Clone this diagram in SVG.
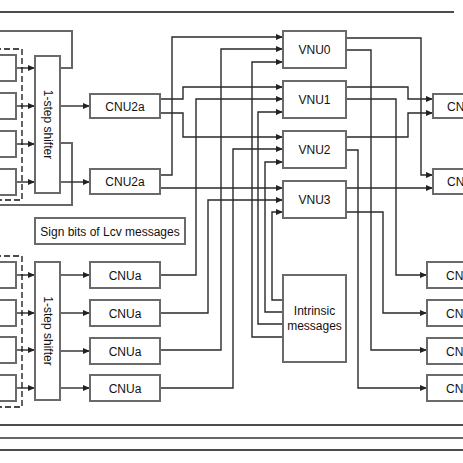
<svg xmlns="http://www.w3.org/2000/svg" width="463" height="463" viewBox="0 0 463 463">
<style>
.box{fill:#fff;stroke:#6a6a6a;stroke-width:2}
.w{fill:none;stroke:#2a2a2a;stroke-width:1.4}
.g{fill:none;stroke:#666;stroke-width:2}
.a{fill:none;stroke:#2a2a2a;stroke-width:1.4;marker-end:url(#ah)}
.t{font-family:"Liberation Sans",Arial,sans-serif;font-size:12px;fill:#111}
.c{text-anchor:middle}
</style>
<defs>
<marker id="ah" markerWidth="7" markerHeight="6" refX="7" refY="3" orient="auto" markerUnits="userSpaceOnUse">
<path d="M0,0 L7,3 L0,6 z" fill="#222"/>
</marker>
</defs>
<rect width="463" height="463" fill="#fff"/>
<g id="frame">
<line x1="0" y1="12" x2="454" y2="12" stroke="#111" stroke-width="1.5"/>
<line x1="0" y1="425" x2="463" y2="425" stroke="#111" stroke-width="1.5"/>
<line x1="0" y1="438" x2="463" y2="438" stroke="#666" stroke-width="2"/>
<line x1="0" y1="450" x2="463" y2="450" stroke="#111" stroke-width="1.5"/>
</g>
<g id="connectors">
<!-- left inputs to shifters -->
<line class="a" x1="16" y1="68" x2="35" y2="68"/>
<line class="a" x1="16" y1="106" x2="35" y2="106"/>
<line class="a" x1="16" y1="144" x2="35" y2="144"/>
<line class="a" x1="16" y1="182" x2="35" y2="182"/>
<line class="a" x1="16" y1="275" x2="35" y2="275"/>
<line class="a" x1="16" y1="313" x2="35" y2="313"/>
<line class="a" x1="16" y1="350" x2="35" y2="350"/>
<line class="a" x1="16" y1="388" x2="35" y2="388"/>
<!-- loops -->
<path class="g" d="M60,68 H72 V31 H0"/>
<path class="g" d="M60,143 H72 V205 H0"/>
<!-- shifter to CNU -->
<line class="a" x1="60" y1="106" x2="90" y2="106"/>
<line class="a" x1="60" y1="182" x2="90" y2="182"/>
<line class="a" x1="60" y1="275" x2="90" y2="275"/>
<line class="a" x1="60" y1="313" x2="90" y2="313"/>
<line class="a" x1="60" y1="351" x2="90" y2="351"/>
<line class="a" x1="60" y1="388" x2="90" y2="388"/>
<!-- CNU to VNU -->
<path class="a" d="M160,99 H183 V87 H283"/>
<path class="a" d="M160,113 H183 V137 H283"/>
<path class="a" d="M160,175 H172 V37 H283"/>
<path class="a" d="M160,188 H283"/>
<path class="a" d="M160,275 H196 V99 H283"/>
<path class="a" d="M160,313 H208 V200 H283"/>
<path class="a" d="M160,350 H221 V49 H283"/>
<path class="a" d="M160,388 H233 V149 H283"/>
<!-- intrinsic to VNU -->
<path class="a" d="M283,300 H272 V212 H283"/>
<path class="a" d="M283,312 H265 V162 H283"/>
<path class="a" d="M283,324 H258 V112 H283"/>
<path class="a" d="M283,337 H252 V62 H283"/>
<!-- VNU outputs -->
<path class="a" d="M346,38 H421 V175 H433"/>
<path class="a" d="M346,50 H371 V350 H427"/>
<path class="a" d="M346,87 H408 V99 H433"/>
<path class="a" d="M346,99 H396 V275 H427"/>
<path class="a" d="M346,137 H408 V113 H433"/>
<path class="a" d="M346,150 H358 V388 H427"/>
<path class="a" d="M346,188 H433"/>
<path class="a" d="M346,212 H383 V313 H427"/>
</g>
<g id="dashed-top"><rect x="-5" y="49" width="27" height="151" fill="none" stroke="#111" stroke-width="1.3" stroke-dasharray="6,3"/></g>
<g id="dashed-bottom"><rect x="-5" y="256" width="27" height="151" fill="none" stroke="#111" stroke-width="1.3" stroke-dasharray="6,3"/></g>
<g id="in-top"><rect class="box" x="-5" y="55" width="21" height="26"/><rect class="box" x="-5" y="93" width="21" height="26"/><rect class="box" x="-5" y="131" width="21" height="26"/><rect class="box" x="-5" y="169" width="21" height="26"/></g>
<g id="in-bottom"><rect class="box" x="-5" y="262" width="21" height="26"/><rect class="box" x="-5" y="300" width="21" height="26"/><rect class="box" x="-5" y="337" width="21" height="26"/><rect class="box" x="-5" y="375" width="21" height="26"/></g>
<g id="shifter-top"><rect class="box" x="35" y="56" width="25" height="137"/><text class="t c" transform="translate(47.5,124.5) rotate(90)" x="0" y="4">1-step shifter</text></g>
<g id="shifter-bottom"><rect class="box" x="35" y="262" width="25" height="138"/><text class="t c" transform="translate(47.5,331) rotate(90)" x="0" y="4">1-step shifter</text></g>
<g id="cnu2a-1"><rect class="box" x="90" y="94" width="70" height="24"/><text class="t c" x="125" y="110.5">CNU2a</text></g>
<g id="cnu2a-2"><rect class="box" x="90" y="169" width="70" height="25"/><text class="t c" x="125" y="186">CNU2a</text></g>
<g id="signbits"><rect class="box" x="35" y="218" width="150" height="26"/><text class="t c" x="110" y="235.5">Sign bits of Lcv messages</text></g>
<g id="cnua-1"><rect class="box" x="90" y="262" width="70" height="26"/><text class="t c" x="125" y="279.5">CNUa</text></g>
<g id="cnua-2"><rect class="box" x="90" y="300" width="70" height="26"/><text class="t c" x="125" y="317.5">CNUa</text></g>
<g id="cnua-3"><rect class="box" x="90" y="338" width="70" height="26"/><text class="t c" x="125" y="355.5">CNUa</text></g>
<g id="cnua-4"><rect class="box" x="90" y="375" width="70" height="26"/><text class="t c" x="125" y="392.5">CNUa</text></g>
<g id="vnu0"><rect class="box" x="283" y="31" width="63" height="37"/><text class="t c" x="314.5" y="54">VNU0</text></g>
<g id="vnu1"><rect class="box" x="283" y="81" width="63" height="37"/><text class="t c" x="314.5" y="104">VNU1</text></g>
<g id="vnu2"><rect class="box" x="283" y="131" width="63" height="37"/><text class="t c" x="314.5" y="154">VNU2</text></g>
<g id="vnu3"><rect class="box" x="283" y="181" width="63" height="37"/><text class="t c" x="314.5" y="204">VNU3</text></g>
<g id="intrinsic"><rect class="box" x="283" y="275" width="63" height="87"/><text class="t c" x="314.5" y="315">Intrinsic</text><text class="t c" x="314.5" y="330">messages</text></g>
<g id="cn-r1"><rect class="box" x="433" y="94" width="40" height="24"/><text class="t" x="447" y="110.5">CN</text></g>
<g id="cn-r2"><rect class="box" x="433" y="169" width="40" height="25"/><text class="t" x="447" y="186">CN</text></g>
<g id="cn-r3"><rect class="box" x="427" y="262" width="46" height="26"/><text class="t" x="446" y="279.5">CN</text></g>
<g id="cn-r4"><rect class="box" x="427" y="300" width="46" height="26"/><text class="t" x="446" y="317.5">CN</text></g>
<g id="cn-r5"><rect class="box" x="427" y="338" width="46" height="26"/><text class="t" x="446" y="355.5">CN</text></g>
<g id="cn-r6"><rect class="box" x="427" y="375" width="46" height="26"/><text class="t" x="446" y="392.5">CN</text></g>
</svg>
